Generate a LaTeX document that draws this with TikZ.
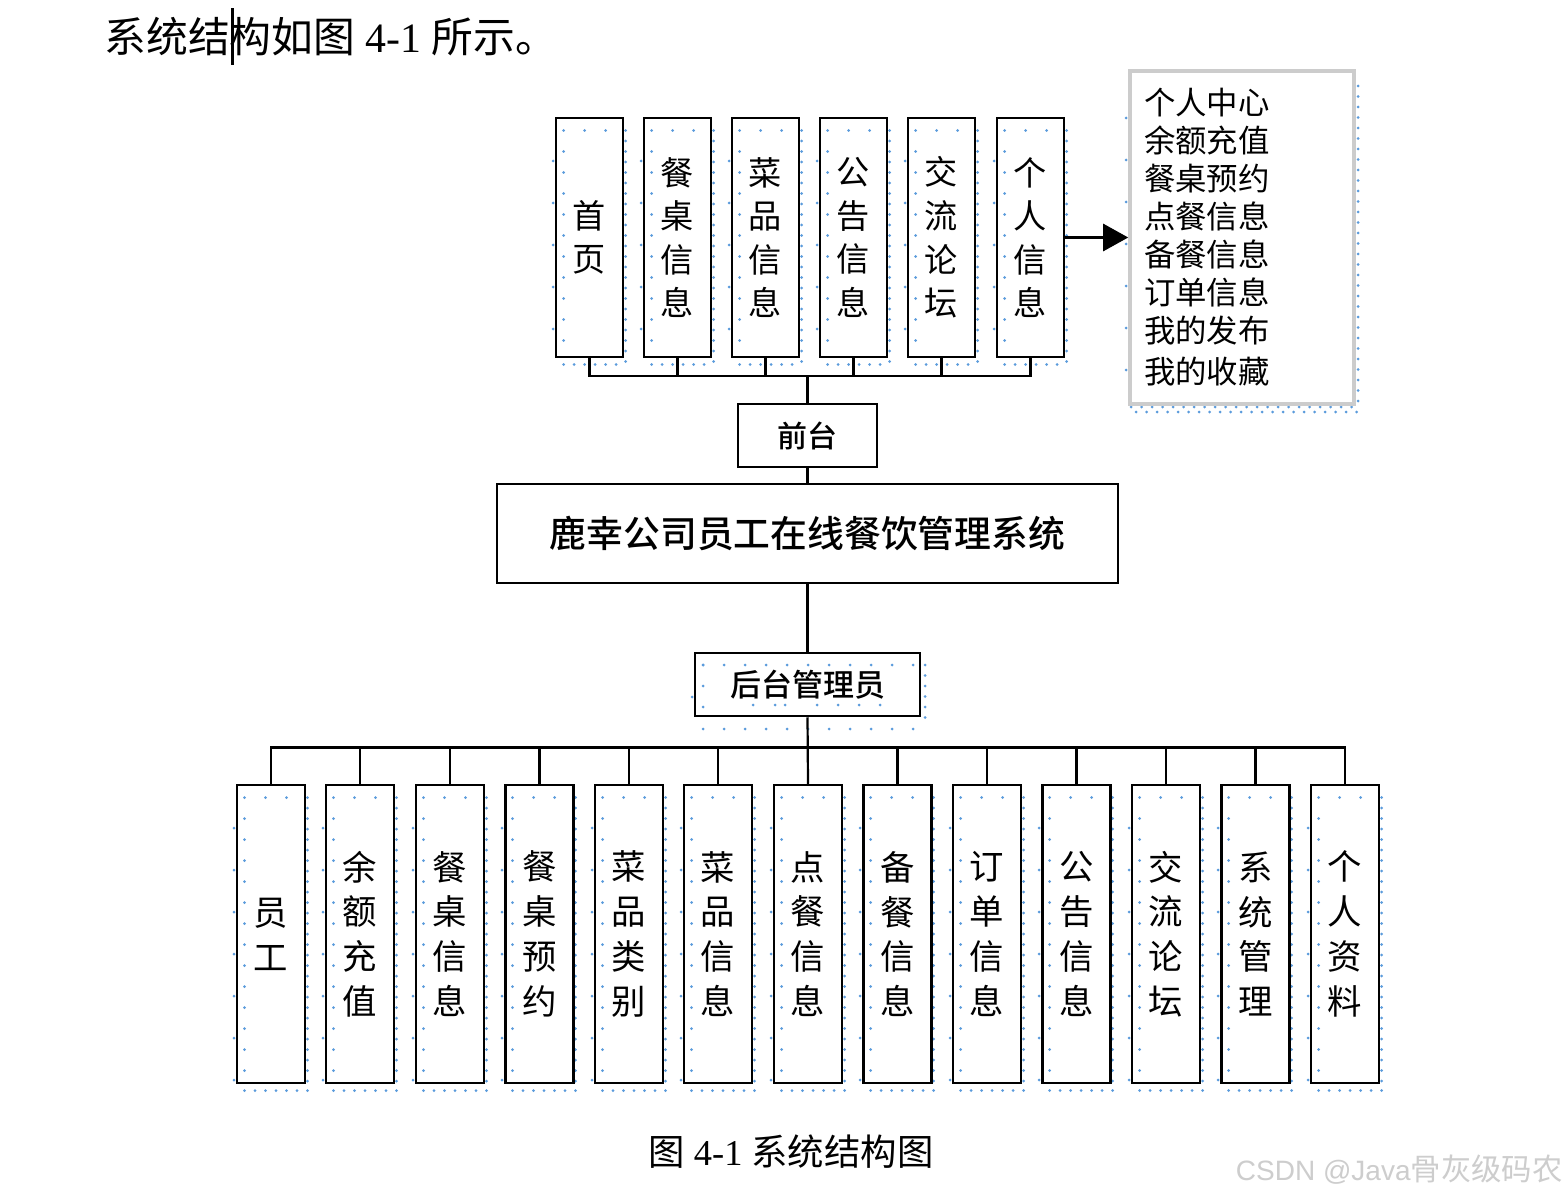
\documentclass[tikz,border=0pt]{standalone}
\usepackage{fontspec}
\setmainfont{Liberation Serif}
\newfontfamily\cjk{Noto Sans CJK SC}
\newfontfamily\cjkmed{Noto Sans CJK SC Medium}
\newfontfamily\wmsans{Liberation Sans}
\usetikzlibrary{arrows.meta}
\definecolor{griddotc}{HTML}{5A9BDC}
\definecolor{wmc}{HTML}{CDCDCD}
\tikzset{
  griddot/.style={fill=griddotc},
  boxline/.style={draw=black,line width=1.25pt,fill=none,inner sep=0pt,align=center,font=\cjk},
  upbox/.style={boxline,minimum width=33.5pt,minimum height=119.5pt,font=\cjk\fontsize{16.6}{21.8}\selectfont},
  lowbox/.style={boxline,minimum width=34pt,minimum height=149pt,font=\cjk\fontsize{17.2}{22.4}\selectfont},
  link/.style={draw=black,line width=1.1pt},
}
% x0 y0 x1 y1 : the dotted layout-grid marks of a box
\newcommand{\griddots}[4]{%
  \pgfmathsetmacro{\gxa}{#1+7.5}\pgfmathsetmacro{\gxb}{#3+2.5}\pgfmathsetmacro{\gya}{#2+12.5}%
  \pgfmathsetmacro{\gyb}{#4+7.5}%
  \pgfmathsetmacro{\gxs}{\gxa+10.5}\pgfmathsetmacro{\gys}{\gya+10.5}%
  \foreach \gy in {\gya,\gys,...,\gyb}{\fill[griddot] (\gxb,\gy) circle[radius=.75pt];}%
  \pgfmathsetmacro{\gyt}{\gya+21}%
  \foreach \gy in {\gya,\gyt,...,#4}{\fill[griddot] (\gxa,\gy) circle[radius=.75pt];}%
  \foreach \gx in {\gxa,\gxs,...,\gxb}{\fill[griddot] (\gx,\gyb) circle[radius=.75pt];}%
  \pgfmathsetmacro{\gxc}{\gxa+21}\pgfmathsetmacro{\gxd}{\gxa+42}%
  \fill[griddot] (\gxc,\gya) circle[radius=.75pt] (\gxd,\gya) circle[radius=.75pt];%
  \pgfmathsetmacro{\gxl}{#1-3}\pgfmathsetmacro{\gyl}{#2+43}\pgfmathsetmacro{\gym}{\gyl+42}%
  \foreach \gy in {\gyl,\gym,...,#4}{\fill[griddot] (\gxl,\gy) circle[radius=.75pt];}%
}
\begin{document}
\begin{tikzpicture}[x=0.5pt,y=-0.5pt]
\useasboundingbox (0,0) rectangle (1568,1198);
\fill[white] (0,0) rectangle (1568,1198);
% grid marks
\foreach \xa in {556,644,732,820,908,997}{\pgfmathsetmacro{\xb}{\xa+67}\griddots{\xa}{118}{\xb}{357}}
\foreach \xa in {237,326,416,505,595,684,774,863,953,1042,1132,1221,1311}{\pgfmathsetmacro{\xb}{\xa+68}\griddots{\xa}{785}{\xb}{1083}}
\foreach \gy in {86,96.5,...,410}{\fill[griddot] (1358,\gy) circle[radius=.75pt];}
\foreach \gy in {118,160,...,380}{\fill[griddot] (1126,\gy) circle[radius=.75pt];}
\foreach \gx in {1131,1141.5,...,1358}{\fill[griddot] (\gx,407) circle[radius=.75pt];\fill[griddot] (\gx+5,412) circle[radius=.75pt];}
\foreach \gy in {665,686,707}{\fill[griddot] (703,\gy) circle[radius=.75pt];}
\fill[griddot] (692,697) circle[radius=.75pt];
\foreach \gy in {665,675.5,...,719}{\fill[griddot] (925,\gy) circle[radius=.75pt];}
\foreach \gx in {703,724,...,915}{\fill[griddot] (\gx,729) circle[radius=.75pt];\fill[griddot] (\gx,665) circle[radius=.75pt];}
\foreach \gx in {753,775,785,817,838,859,880}{\fill[griddot] (\gx,705) circle[radius=.75pt];}
% top line and caption
\node[anchor=west,inner sep=0pt,font=\fontsize{20.9}{24}\selectfont] (intro) at (104,37) {{\cjk 系统结构如图} 4-1 {\cjk 所示。}};
\fill[black] (230.5,8) rectangle (234,65);
\node[inner sep=0pt,font=\fontsize{18.2}{22}\selectfont] (caption) at (791,1152) {{\cjk 图} 4-1 {\cjk 系统结构图}};
\node[anchor=east,inner sep=0pt,text=wmc,font=\wmsans\fontsize{14}{18}\selectfont] (mark) at (1563,1170) {CSDN @Java{\cjk\fontsize{15.2}{18}\selectfont 骨灰级码农}};
% upper row
\node[upbox] (f1) at (589.5,237.5) {首\\页};
\node[upbox] (f2) at (677.5,237.5) {餐\\桌\\信\\息};
\node[upbox] (f3) at (765.5,237.5) {菜\\品\\信\\息};
\node[upbox] (f4) at (853.5,237.5) {公\\告\\信\\息};
\node[upbox] (f5) at (941.5,237.5) {交\\流\\论\\坛};
\node[upbox] (f6) at (1030.5,237.5) {个\\人\\信\\息};
% right list
\node[draw=black!20,line width=1.8pt,minimum width=112pt,minimum height=166.5pt,text width=98pt,align=left,inner sep=0pt,font=\cjk\fontsize{15.7}{19}\selectfont] (list) at (1242,237.5) {个人中心\\余额充值\\餐桌预约\\点餐信息\\备餐信息\\订单信息\\我的发布\\[1.5pt]我的收藏};
% centre column
\node[boxline,minimum width=69.5pt,minimum height=31.5pt,font=\cjkmed\fontsize{15}{18}\selectfont] (front) at (807.5,435.5) {前台};
\node[boxline,minimum width=310.5pt,minimum height=49.5pt,font=\cjkmed\fontsize{18.4}{22}\selectfont] (sys) at (807.5,533.5) {鹿幸公司员工在线餐饮管理系统};
\node[boxline,minimum width=112.5pt,minimum height=31.5pt,font=\cjkmed\fontsize{15.5}{18}\selectfont] (back) at (807.5,684.5) {后台管理员};
% lower row
\node[lowbox] (b1) at (271,934) {员\\工};
\node[lowbox] (b2) at (360,934) {余\\额\\充\\值};
\node[lowbox] (b3) at (450,934) {餐\\桌\\信\\息};
\node[lowbox] (b4) at (539.5,934) {餐\\桌\\预\\约};
\node[lowbox] (b5) at (629,934) {菜\\品\\类\\别};
\node[lowbox] (b6) at (718,934) {菜\\品\\信\\息};
\node[lowbox] (b7) at (808,934) {点\\餐\\信\\息};
\node[lowbox] (b8) at (897.5,934) {备\\餐\\信\\息};
\node[lowbox] (b9) at (987,934) {订\\单\\信\\息};
\node[lowbox] (b10) at (1076.5,934) {公\\告\\信\\息};
\node[lowbox] (b11) at (1166,934) {交\\流\\论\\坛};
\node[lowbox] (b12) at (1255.5,934) {系\\统\\管\\理};
\node[lowbox] (b13) at (1345,934) {个\\人\\资\\料};
% connectors
\coordinate (busT) at (807.5,376);
\coordinate (busB) at (807.5,747.5);
\foreach \n in {f1,f2,f3,f4,f5,f6}{\draw[link] (\n.south) -- (\n.south |- busT);}
\draw[link,line cap=rect] (f1.south |- busT) -- (f6.south |- busT);
\draw[link] (front.north) -- (busT);
\draw[link] (front.south) -- (sys.north);
\draw[link] (sys.south) -- (back.north);
\draw[link] (back.south) -- (b7.north);
\foreach \n in {b1,b2,b3,b4,b5,b6,b8,b9,b10,b11,b12,b13}{\draw[link] (\n.north) -- (\n.north |- busB);}
\draw[link,line cap=rect] (b1.north |- busB) -- (b13.north |- busB);
\draw[draw=black,line width=1.4pt,-{Triangle[length=12.5pt,width=13.5pt]}] (f6.east) -- (list.west);
\end{tikzpicture}
\end{document}
